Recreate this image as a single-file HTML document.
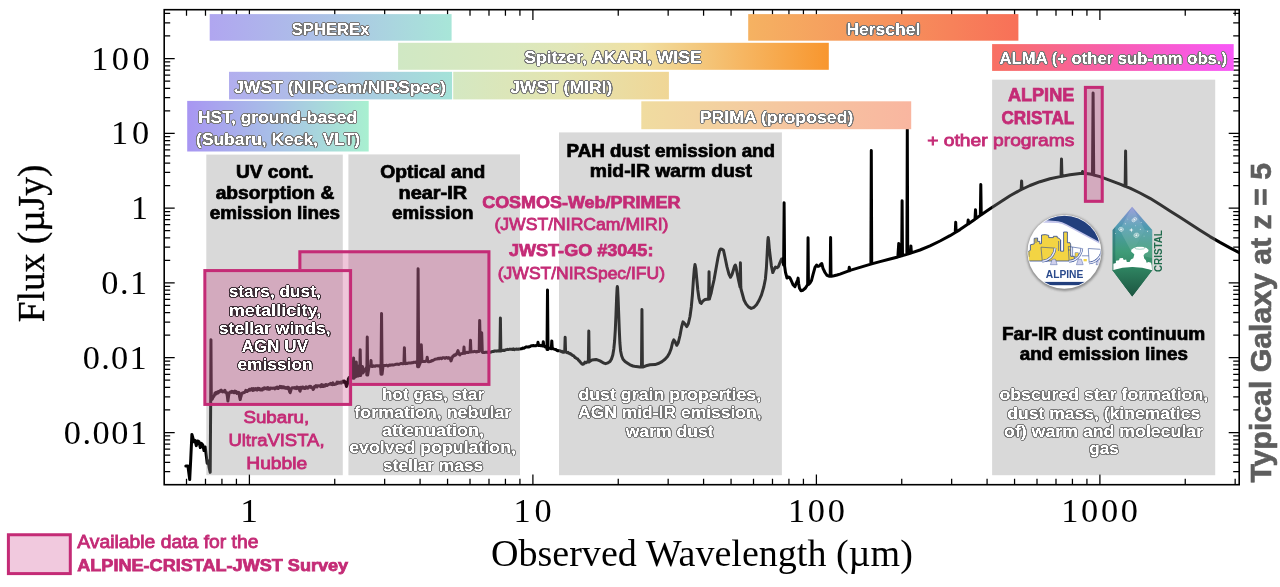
<!DOCTYPE html>
<html lang="en"><head><meta charset="utf-8"><title>Typical Galaxy at z = 5 - spectrum coverage</title>
<style>
html,body{margin:0;padding:0;background:#fff;}
body{width:1280px;height:587px;overflow:hidden;}
svg{display:block;}
.ser{font-family:"Liberation Serif","DejaVu Serif",serif;fill:#000;}
.axl{stroke:#000;stroke-width:0.35px;}
.sb{font-family:"Liberation Sans","DejaVu Sans",sans-serif;font-weight:700;}
.sr{font-family:"Liberation Sans","DejaVu Sans",sans-serif;font-weight:400;}
.ol{fill:#fff;filter:url(#fol);}
.od{fill:#fff;filter:url(#fod);}
.pk{fill:#c42b76;}
.md{stroke:#c42b76;stroke-width:0.8px;}
.ttl{fill:#000;stroke:#000;stroke-width:0.7px;}
.bk{stroke:#c42b76;stroke-width:0.75px;}
</style></head><body>
<svg width="1280" height="587" viewBox="0 0 1280 587">
<defs>

<linearGradient id="gS" x1="0" y1="0" x2="1" y2="0">
<stop offset="0" stop-color="#b0a6f0"/>
<stop offset="0.5" stop-color="#acc4e6"/>
<stop offset="1" stop-color="#a8e6d8"/>
</linearGradient>
<linearGradient id="gH" x1="0" y1="0" x2="1" y2="0">
<stop offset="0" stop-color="#f5b262"/>
<stop offset="0.5" stop-color="#f6945c"/>
<stop offset="1" stop-color="#f87058"/>
</linearGradient>
<linearGradient id="gP" x1="0" y1="0" x2="1" y2="0">
<stop offset="0" stop-color="#d0e8c4"/>
<stop offset="0.27" stop-color="#dae8be"/>
<stop offset="0.4" stop-color="#e2e6b6"/>
<stop offset="0.56" stop-color="#f0e0a2"/>
<stop offset="0.8" stop-color="#f6b662"/>
<stop offset="1" stop-color="#f8962e"/>
</linearGradient>
<linearGradient id="gA" x1="0" y1="0" x2="1" y2="0">
<stop offset="0" stop-color="#f87062"/>
<stop offset="0.5" stop-color="#f85eb0"/>
<stop offset="1" stop-color="#f858f8"/>
</linearGradient>
<linearGradient id="gJ" x1="0" y1="0" x2="1" y2="0">
<stop offset="0" stop-color="#b2aeee"/>
<stop offset="0.5" stop-color="#acc6e4"/>
<stop offset="1" stop-color="#a4e2d8"/>
</linearGradient>
<linearGradient id="gM" x1="0" y1="0" x2="1" y2="0">
<stop offset="0" stop-color="#d4e8c2"/>
<stop offset="0.5" stop-color="#e4e4b0"/>
<stop offset="1" stop-color="#f0d696"/>
</linearGradient>
<linearGradient id="gR" x1="0" y1="0" x2="1" y2="0">
<stop offset="0" stop-color="#f0dca0"/>
<stop offset="0.5" stop-color="#f5c8a0"/>
<stop offset="1" stop-color="#f9b6a0"/>
</linearGradient>
<linearGradient id="gT" x1="0" y1="0" x2="1" y2="0">
<stop offset="0" stop-color="#a896f2"/>
<stop offset="0.5" stop-color="#a8c2e6"/>
<stop offset="1" stop-color="#a8f0d0"/>
</linearGradient>
<linearGradient id="gCr" x1="0" y1="0" x2="0" y2="1">
<stop offset="0" stop-color="#8e92d6"/><stop offset="0.22" stop-color="#4f9ab0"/><stop offset="0.5" stop-color="#3f9c78"/><stop offset="0.75" stop-color="#2f7f5c"/><stop offset="1" stop-color="#1e5a44"/>
</linearGradient>
<linearGradient id="gCr2" x1="0" y1="0" x2="0" y2="1"><stop offset="0" stop-color="#2f8562"/><stop offset="1" stop-color="#1c5440"/></linearGradient>
<linearGradient id="gCr3" x1="0" y1="0" x2="0" y2="1"><stop offset="0" stop-color="#358c68"/><stop offset="1" stop-color="#2f8562"/></linearGradient>
<clipPath id="cAlp"><circle cx="1064.4" cy="251.9" r="36.2"/></clipPath>
<clipPath id="cCr"><polygon points="1132.4,207.1 1152.6,230 1152.6,272.1 1132.4,296.8 1112.3,272.1 1112.3,230"/></clipPath>
<filter id="fol" x="-5%" y="-30%" width="110%" height="160%" color-interpolation-filters="sRGB">
<feGaussianBlur in="SourceAlpha" stdDeviation="0.8" result="b1"/>
<feComponentTransfer in="b1" result="o"><feFuncA type="linear" slope="10" intercept="-1.0"/></feComponentTransfer>
<feFlood flood-color="#787878"/><feComposite in2="o" operator="in" result="oc"/>
<feGaussianBlur in="SourceAlpha" stdDeviation="0.5" result="b2"/>
<feComponentTransfer in="b2" result="i"><feFuncA type="linear" slope="4" intercept="-1.6"/></feComponentTransfer>
<feFlood flood-color="#fff"/><feComposite in2="i" operator="in" result="ic"/>
<feMerge><feMergeNode in="oc"/><feMergeNode in="ic"/></feMerge>
</filter>
<filter id="fod" x="-5%" y="-30%" width="110%" height="160%" color-interpolation-filters="sRGB">
<feGaussianBlur in="SourceAlpha" stdDeviation="0.8" result="b1"/>
<feComponentTransfer in="b1" result="o"><feFuncA type="linear" slope="10" intercept="-1.0"/></feComponentTransfer>
<feFlood flood-color="#3c2c35"/><feComposite in2="o" operator="in" result="oc"/>
<feGaussianBlur in="SourceAlpha" stdDeviation="0.5" result="b2"/>
<feComponentTransfer in="b2" result="i"><feFuncA type="linear" slope="4" intercept="-1.6"/></feComponentTransfer>
<feFlood flood-color="#fff"/><feComposite in2="i" operator="in" result="ic"/>
<feMerge><feMergeNode in="oc"/><feMergeNode in="ic"/></feMerge>
</filter>
<clipPath id="cPlot"><rect x="164.2" y="9.7" width="1075" height="475"/></clipPath>
<filter id="sh" x="-20%" y="-20%" width="140%" height="140%"><feGaussianBlur stdDeviation="1.2"/></filter>
</defs>
<rect width="1280" height="587" fill="#fff"/>

<path d="M186.51,484.70 v-6.0 M186.51,9.70 v6.0 M205.49,484.70 v-6.0 M205.49,9.70 v6.0 M221.93,484.70 v-6.0 M221.93,9.70 v6.0 M236.43,484.70 v-6.0 M236.43,9.70 v6.0 M249.40,484.70 v-10.3 M249.40,9.70 v10.3 M334.74,484.70 v-6.0 M334.74,9.70 v6.0 M384.66,484.70 v-6.0 M384.66,9.70 v6.0 M420.08,484.70 v-6.0 M420.08,9.70 v6.0 M447.56,484.70 v-6.0 M447.56,9.70 v6.0 M470.01,484.70 v-6.0 M470.01,9.70 v6.0 M488.99,484.70 v-6.0 M488.99,9.70 v6.0 M505.43,484.70 v-6.0 M505.43,9.70 v6.0 M519.93,484.70 v-6.0 M519.93,9.70 v6.0 M532.90,484.70 v-10.3 M532.90,9.70 v10.3 M618.24,484.70 v-6.0 M618.24,9.70 v6.0 M668.16,484.70 v-6.0 M668.16,9.70 v6.0 M703.58,484.70 v-6.0 M703.58,9.70 v6.0 M731.06,484.70 v-6.0 M731.06,9.70 v6.0 M753.51,484.70 v-6.0 M753.51,9.70 v6.0 M772.49,484.70 v-6.0 M772.49,9.70 v6.0 M788.93,484.70 v-6.0 M788.93,9.70 v6.0 M803.43,484.70 v-6.0 M803.43,9.70 v6.0 M816.40,484.70 v-10.3 M816.40,9.70 v10.3 M901.74,484.70 v-6.0 M901.74,9.70 v6.0 M951.66,484.70 v-6.0 M951.66,9.70 v6.0 M987.08,484.70 v-6.0 M987.08,9.70 v6.0 M1014.56,484.70 v-6.0 M1014.56,9.70 v6.0 M1037.01,484.70 v-6.0 M1037.01,9.70 v6.0 M1055.99,484.70 v-6.0 M1055.99,9.70 v6.0 M1072.43,484.70 v-6.0 M1072.43,9.70 v6.0 M1086.93,484.70 v-6.0 M1086.93,9.70 v6.0 M1099.90,484.70 v-10.3 M1099.90,9.70 v10.3 M1185.24,484.70 v-6.0 M1185.24,9.70 v6.0 M1235.16,484.70 v-6.0 M1235.16,9.70 v6.0 M164.20,471.61 h6.0 M1239.20,471.61 h-6.0 M164.20,462.27 h6.0 M1239.20,462.27 h-6.0 M164.20,455.02 h6.0 M1239.20,455.02 h-6.0 M164.20,449.09 h6.0 M1239.20,449.09 h-6.0 M164.20,444.09 h6.0 M1239.20,444.09 h-6.0 M164.20,439.75 h6.0 M1239.20,439.75 h-6.0 M164.20,435.92 h6.0 M1239.20,435.92 h-6.0 M164.20,432.50 h10.5 M1239.20,432.50 h-10.5 M164.20,409.98 h6.0 M1239.20,409.98 h-6.0 M164.20,396.81 h6.0 M1239.20,396.81 h-6.0 M164.20,387.47 h6.0 M1239.20,387.47 h-6.0 M164.20,380.22 h6.0 M1239.20,380.22 h-6.0 M164.20,374.29 h6.0 M1239.20,374.29 h-6.0 M164.20,369.29 h6.0 M1239.20,369.29 h-6.0 M164.20,364.95 h6.0 M1239.20,364.95 h-6.0 M164.20,361.12 h6.0 M1239.20,361.12 h-6.0 M164.20,357.70 h10.5 M1239.20,357.70 h-10.5 M164.20,335.18 h6.0 M1239.20,335.18 h-6.0 M164.20,322.01 h6.0 M1239.20,322.01 h-6.0 M164.20,312.67 h6.0 M1239.20,312.67 h-6.0 M164.20,305.42 h6.0 M1239.20,305.42 h-6.0 M164.20,299.49 h6.0 M1239.20,299.49 h-6.0 M164.20,294.49 h6.0 M1239.20,294.49 h-6.0 M164.20,290.15 h6.0 M1239.20,290.15 h-6.0 M164.20,286.32 h6.0 M1239.20,286.32 h-6.0 M164.20,282.90 h10.5 M1239.20,282.90 h-10.5 M164.20,260.38 h6.0 M1239.20,260.38 h-6.0 M164.20,247.21 h6.0 M1239.20,247.21 h-6.0 M164.20,237.87 h6.0 M1239.20,237.87 h-6.0 M164.20,230.62 h6.0 M1239.20,230.62 h-6.0 M164.20,224.69 h6.0 M1239.20,224.69 h-6.0 M164.20,219.69 h6.0 M1239.20,219.69 h-6.0 M164.20,215.35 h6.0 M1239.20,215.35 h-6.0 M164.20,211.52 h6.0 M1239.20,211.52 h-6.0 M164.20,208.10 h10.5 M1239.20,208.10 h-10.5 M164.20,185.58 h6.0 M1239.20,185.58 h-6.0 M164.20,172.41 h6.0 M1239.20,172.41 h-6.0 M164.20,163.07 h6.0 M1239.20,163.07 h-6.0 M164.20,155.82 h6.0 M1239.20,155.82 h-6.0 M164.20,149.89 h6.0 M1239.20,149.89 h-6.0 M164.20,144.89 h6.0 M1239.20,144.89 h-6.0 M164.20,140.55 h6.0 M1239.20,140.55 h-6.0 M164.20,136.72 h6.0 M1239.20,136.72 h-6.0 M164.20,133.30 h10.5 M1239.20,133.30 h-10.5 M164.20,110.78 h6.0 M1239.20,110.78 h-6.0 M164.20,97.61 h6.0 M1239.20,97.61 h-6.0 M164.20,88.27 h6.0 M1239.20,88.27 h-6.0 M164.20,81.02 h6.0 M1239.20,81.02 h-6.0 M164.20,75.09 h6.0 M1239.20,75.09 h-6.0 M164.20,70.09 h6.0 M1239.20,70.09 h-6.0 M164.20,65.75 h6.0 M1239.20,65.75 h-6.0 M164.20,61.92 h6.0 M1239.20,61.92 h-6.0 M164.20,58.50 h10.5 M1239.20,58.50 h-10.5 M164.20,35.98 h6.0 M1239.20,35.98 h-6.0 M164.20,22.81 h6.0 M1239.20,22.81 h-6.0 M164.20,13.47 h6.0 M1239.20,13.47 h-6.0" stroke="#000" stroke-width="1.25" fill="none"/>
<g clip-path="url(#cPlot)">
<path d="M185.80,465.90 L187.90,465.90 L189.70,479.60 L190.80,458.00 L191.90,434.40 L192.80,437.50 L193.80,441.80 L195.00,440.30 L196.30,445.60 L197.50,441.00 L199.00,441.60 L200.30,447.60 L201.50,443.40 L202.80,445.00 L204.00,450.60 L205.20,447.00 L206.20,455.00 L207.20,463.20 L208.20,460.80 L209.20,468.00 L210.20,472.30 L210.70,400.00 L210.95,339.80 L211.30,398.00 L212.00,399.50 L212.60,398.49 L213.20,397.03 L213.80,396.42 L214.40,395.36 L215.00,393.09 L215.62,392.58 L216.25,393.91 L216.88,392.29 L217.50,391.84 L218.12,393.04 L218.75,391.54 L219.38,391.91 L220.00,390.75 L220.62,391.15 L221.25,390.19 L221.88,391.27 L222.50,391.82 L223.12,391.16 L223.75,391.68 L224.38,391.60 L225.00,390.38 L225.53,392.41 L226.07,392.62 L226.60,392.58 L227.25,395.62 L227.90,400.97 L228.55,396.29 L229.20,392.96 L230.00,392.10 L230.62,391.84 L231.25,392.36 L231.88,391.34 L232.50,392.28 L233.12,391.62 L233.75,392.74 L234.38,392.71 L235.00,391.15 L235.63,391.37 L236.27,391.67 L236.90,393.38 L237.53,392.40 L238.17,392.93 L238.80,392.38 L239.50,396.32 L240.20,399.56 L240.73,397.22 L241.27,395.45 L241.80,393.18 L242.35,393.50 L242.90,392.68 L243.45,392.85 L244.00,392.35 L244.60,392.43 L245.20,391.56 L245.80,390.29 L246.40,391.56 L247.00,391.58 L247.60,391.25 L248.20,390.35 L248.80,390.45 L249.40,389.19 L250.00,390.30 L250.59,389.73 L251.18,389.10 L251.76,388.61 L252.35,390.25 L252.94,390.51 L253.53,388.59 L254.12,390.07 L254.71,389.22 L255.29,388.65 L255.88,388.93 L256.47,389.91 L257.06,390.10 L257.65,388.34 L258.24,389.51 L258.82,388.29 L259.41,389.68 L260.00,388.85 L260.59,389.95 L261.18,390.10 L261.76,389.05 L262.35,390.04 L262.94,388.54 L263.53,387.99 L264.12,389.04 L264.71,387.79 L265.29,388.09 L265.88,388.48 L266.47,388.85 L267.06,387.84 L267.65,387.55 L268.24,389.23 L268.82,388.01 L269.41,389.32 L270.00,389.13 L270.59,387.99 L271.18,388.11 L271.76,388.18 L272.35,388.39 L272.94,388.24 L273.53,388.11 L274.12,388.18 L274.71,388.80 L275.29,387.84 L275.88,387.63 L276.47,388.18 L277.06,387.11 L277.65,387.19 L278.24,388.56 L278.82,387.55 L279.41,387.55 L280.00,386.37 L280.62,387.26 L281.25,387.64 L281.88,386.50 L282.50,387.79 L283.12,387.87 L283.75,386.70 L284.38,387.93 L285.00,387.63 L285.57,388.18 L286.14,387.59 L286.71,388.43 L287.29,388.60 L287.86,387.20 L288.43,387.38 L289.00,388.77 L289.60,391.77 L290.20,392.68 L290.80,390.66 L291.40,388.49 L292.00,387.87 L292.60,387.91 L293.20,387.76 L293.80,387.83 L294.40,388.25 L295.00,387.58 L295.60,387.74 L296.20,388.57 L296.80,387.01 L297.40,388.15 L298.00,388.49 L298.60,387.60 L299.20,387.42 L299.65,390.54 L300.10,391.25 L301.00,387.24 L301.57,387.74 L302.14,388.26 L302.71,386.98 L303.29,387.41 L303.86,387.41 L304.43,388.43 L305.00,387.57 L305.58,388.38 L306.17,386.87 L306.75,387.16 L307.33,387.75 L307.92,388.17 L308.50,387.20 L309.08,386.66 L309.67,386.37 L310.25,387.16 L310.83,386.38 L311.42,387.61 L312.00,387.61 L312.55,387.79 L313.10,389.54 L313.65,388.95 L314.20,386.90 L314.78,387.17 L315.36,386.14 L315.94,385.61 L316.52,385.88 L317.10,386.87 L317.68,385.70 L318.26,385.79 L318.84,385.87 L319.42,385.80 L320.00,385.71 L320.59,386.70 L321.18,385.00 L321.76,384.60 L322.35,386.48 L322.94,386.26 L323.53,386.39 L324.12,385.14 L324.71,386.14 L325.29,386.00 L325.88,384.43 L326.47,385.45 L327.06,385.55 L327.65,385.10 L328.24,384.70 L328.82,384.13 L329.41,384.15 L330.00,383.83 L330.59,383.38 L331.18,384.36 L331.76,383.62 L332.35,384.60 L332.94,382.89 L333.53,384.58 L334.12,384.02 L334.71,384.40 L335.29,384.23 L335.88,384.12 L336.47,383.33 L337.06,382.04 L337.65,383.46 L338.24,382.15 L338.82,382.30 L339.41,382.95 L340.00,382.55 L340.62,382.13 L341.25,383.05 L341.88,382.17 L342.50,381.42 L343.12,381.04 L343.75,382.13 L344.38,381.14 L345.00,381.59 L345.75,383.79 L346.50,386.56 L347.15,384.67 L347.80,382.67 L348.40,378.81 L349.00,377.61 L349.75,377.64 L350.50,376.50 L351.70,367.00 L351.75,378.00 L352.20,366.00 L352.65,378.00 L353.10,367.00 L353.15,378.30 L353.60,357.90 L354.05,378.30 L354.50,367.00 L354.55,377.00 L355.00,364.00 L355.45,377.00 L355.80,367.00 L355.85,376.30 L356.30,362.00 L356.75,376.30 L357.30,367.00 L357.35,376.00 L357.80,366.00 L358.25,376.00 L359.70,367.00 L359.75,375.60 L360.20,349.70 L360.65,375.60 L362.00,367.00 L362.05,373.00 L362.50,366.50 L362.95,373.00 L366.75,367.00 L366.80,375.00 L367.25,337.00 L367.70,375.00 L369.00,366.50 L370.65,366.30 L371.00,360.60 L371.35,366.30 L372.00,366.44 L372.77,366.42 L373.55,365.73 L374.32,366.19 L375.09,366.34 L375.86,365.66 L376.64,365.80 L377.41,365.76 L378.18,365.93 L378.95,365.81 L379.73,365.81 L380.50,365.80 L381.00,374.20 L381.55,313.60 L382.10,374.20 L383.00,366.00 L383.00,366.25 L383.78,365.47 L384.56,365.44 L385.33,365.43 L386.11,365.35 L386.89,365.22 L387.67,365.96 L388.44,365.77 L389.22,365.01 L390.00,365.30 L390.81,365.03 L391.62,364.93 L392.44,364.87 L393.25,365.03 L394.06,364.88 L394.87,364.57 L395.68,364.32 L396.49,364.35 L397.31,364.06 L398.12,364.35 L398.93,364.39 L399.74,363.99 L400.55,363.62 L401.36,363.61 L402.18,363.69 L402.99,363.79 L403.80,363.60 L403.95,363.50 L404.40,347.70 L404.85,363.50 L405.20,363.65 L406.00,363.23 L406.80,363.54 L407.60,363.31 L408.40,363.07 L409.20,362.95 L410.00,363.00 L410.82,363.07 L411.64,362.71 L412.47,362.84 L413.29,362.52 L414.11,362.22 L414.93,362.37 L415.76,362.40 L416.58,361.73 L417.40,362.00 L417.60,366.70 L418.10,268.80 L418.70,366.70 L420.60,362.00 L421.30,344.70 L422.00,361.60 L422.50,361.44 L423.32,361.34 L424.14,361.60 L424.96,361.55 L425.78,361.00 L426.60,361.00 L426.70,361.00 L427.20,357.20 L427.70,361.00 L428.00,361.70 L429.00,361.84 L430.00,361.56 L430.83,361.30 L431.67,360.49 L432.50,360.71 L433.33,360.10 L434.17,359.85 L435.00,359.29 L435.83,359.10 L436.67,359.10 L437.50,358.86 L438.33,358.34 L439.17,358.75 L440.00,358.10 L440.83,358.14 L441.67,358.67 L442.50,357.84 L443.33,357.79 L444.17,357.70 L445.00,358.38 L445.83,357.66 L446.67,357.49 L447.50,358.29 L448.33,357.55 L449.17,358.26 L450.00,358.07 L451.00,360.94 L452.00,357.95 L453.00,356.08 L453.75,355.95 L454.50,354.84 L455.25,355.22 L456.00,354.61 L457.00,353.02 L458.00,350.61 L459.00,354.25 L460.00,354.83 L460.85,353.66 L461.70,353.62 L462.55,353.56 L463.40,353.20 L463.55,353.20 L464.00,347.00 L464.45,353.20 L464.80,353.26 L465.53,352.63 L466.27,352.41 L467.00,352.30 L467.73,352.47 L468.45,352.45 L469.17,352.04 L469.90,352.00 L470.05,352.00 L470.50,340.20 L470.95,352.00 L471.30,351.79 L472.08,351.75 L472.87,351.65 L473.65,351.63 L474.43,351.30 L475.22,351.57 L476.00,351.88 L476.75,351.43 L477.50,351.70 L478.25,351.23 L479.00,351.50 L479.20,351.50 L479.65,320.40 L480.40,350.00 L481.20,350.00 L481.70,332.70 L482.30,352.30 L483.00,352.53 L483.78,352.53 L484.56,352.43 L485.33,352.28 L486.11,352.21 L486.89,352.28 L487.67,352.41 L488.44,351.84 L489.22,351.76 L490.00,352.17 L490.83,352.16 L491.67,351.75 L492.50,351.56 L493.33,351.62 L494.17,351.11 L495.00,351.04 L495.80,350.94 L496.60,351.16 L497.40,350.92 L498.20,350.81 L499.00,351.08 L499.80,350.90 L499.95,350.90 L500.40,318.00 L500.85,350.90 L501.20,351.01 L501.96,350.32 L502.72,350.58 L503.48,350.22 L504.24,350.52 L505.00,350.18 L505.83,349.77 L506.67,349.61 L507.50,349.32 L508.33,349.61 L509.17,349.41 L510.00,349.11 L510.83,349.23 L511.67,349.16 L512.50,349.52 L513.33,348.91 L514.17,349.63 L515.00,349.13 L515.83,349.20 L516.67,349.04 L517.50,349.33 L518.33,349.27 L519.17,348.99 L520.00,348.88 L520.83,348.87 L521.67,348.75 L522.50,348.11 L523.33,348.18 L524.17,348.15 L525.00,347.47 L525.83,347.06 L526.67,346.86 L527.50,347.10 L528.33,346.86 L529.17,346.91 L530.00,346.62 L530.83,345.93 L531.67,345.75 L532.50,345.68 L533.33,345.49 L534.17,345.82 L535.00,345.82 L535.80,345.79 L536.60,345.15 L537.40,345.30 L537.50,345.30 L538.00,342.30 L538.50,345.30 L539.00,345.59 L539.72,345.25 L540.44,345.44 L541.16,345.78 L541.88,345.37 L542.60,345.80 L542.80,346.00 L543.30,341.80 L543.80,346.00 L544.20,345.97 L545.10,346.97 L546.00,346.93 L546.90,347.50 L547.00,349.40 L547.50,289.90 L548.00,349.40 L548.60,347.89 L549.43,348.20 L550.27,348.41 L551.10,348.40 L551.30,348.60 L551.80,340.90 L552.30,348.60 L552.60,348.36 L553.40,348.85 L554.20,349.14 L555.00,349.39 L555.75,349.44 L556.50,350.08 L557.25,350.71 L558.00,350.50 L558.80,350.86 L559.60,350.70 L560.40,351.06 L561.20,351.63 L562.00,351.35 L562.83,352.15 L563.67,352.27 L564.50,352.00 L564.70,352.00 L565.15,337.30 L565.60,352.00 L566.00,351.80 L567.00,352.79 L568.00,352.37 L568.80,353.21 L569.60,353.64 L570.40,353.62 L571.20,354.44 L572.00,354.85 L572.80,355.63 L573.60,355.71 L574.40,356.81 L575.20,357.64 L576.00,357.97 L576.80,358.60 L577.60,358.93 L578.40,360.07 L579.20,360.69 L580.00,361.82 L580.87,362.78 L581.73,363.67 L582.60,364.28 L583.40,364.05 L584.20,363.33 L585.00,362.18 L585.80,362.76 L586.60,362.41 L587.40,361.75 L588.20,362.00 L588.35,362.00 L588.80,331.10 L589.25,362.00 L589.60,361.50 L592.00,360.00 L596.00,359.40 L600.00,360.90 L604.00,363.20 L605.50,363.70 L608.00,362.80 L610.00,361.50 L611.50,359.00 L612.80,355.00 L613.80,349.00 L614.60,341.00 L615.30,330.00 L616.00,314.00 L616.60,298.00 L617.10,288.00 L617.35,286.50 L617.60,288.00 L618.10,298.00 L618.70,314.00 L619.30,330.00 L619.90,343.00 L620.60,351.00 L621.60,355.80 L623.00,359.20 L625.00,361.40 L627.60,363.20 L630.00,364.80 L633.00,366.00 L636.00,366.60 L639.80,366.90 L641.30,367.10 L641.50,367.10 L641.95,309.60 L642.40,367.10 L642.80,367.00 L646.00,365.80 L650.00,364.80 L655.00,364.60 L659.00,363.30 L662.00,361.60 L665.00,359.30 L667.50,356.50 L669.50,353.00 L671.20,348.50 L672.60,342.50 L673.80,339.80 L675.00,341.50 L676.80,345.30 L678.30,342.50 L680.00,335.50 L681.60,327.00 L683.00,321.90 L684.60,323.50 L686.80,326.60 L688.40,323.50 L690.00,316.50 L691.30,307.00 L692.40,295.00 L693.40,280.00 L694.30,269.00 L695.00,264.60 L695.80,268.50 L696.80,279.50 L697.80,290.00 L699.00,298.50 L700.20,302.60 L701.20,303.50 L702.80,301.20 L704.50,299.80 L706.50,299.20 L708.40,299.20 L708.60,298.90 L709.05,271.80 L709.50,298.90 L709.80,297.50 L711.00,293.60 L712.50,286.50 L714.00,280.00 L716.00,268.80 L718.00,257.50 L719.50,251.00 L720.60,249.00 L722.00,249.30 L723.50,250.30 L725.00,257.20 L727.00,266.90 L729.00,274.40 L730.50,277.30 L732.00,274.50 L733.40,270.00 L734.60,266.00 L735.30,265.00 L736.00,267.00 L737.00,272.50 L738.40,279.50 L739.80,286.00 L740.00,287.00 L740.40,262.80 L740.80,287.00 L741.00,289.00 L742.50,294.50 L744.00,300.00 L746.00,303.90 L748.50,306.90 L751.20,308.40 L754.00,307.30 L756.50,304.80 L759.00,300.50 L761.50,294.80 L763.80,287.00 L765.40,279.00 L766.40,268.00 L767.20,253.00 L767.80,241.00 L768.20,237.50 L768.70,241.00 L769.40,249.50 L770.30,257.00 L771.40,266.00 L772.80,272.60 L774.20,269.50 L775.50,267.00 L777.00,267.80 L778.60,266.30 L780.00,262.50 L781.50,259.00 L783.00,262.00 L783.60,265.00 L784.10,202.80 L784.60,266.00 L785.50,272.40 L787.00,278.00 L788.40,277.00 L789.80,277.60 L791.00,280.00 L793.00,284.60 L795.00,286.60 L796.50,282.50 L797.60,280.00 L798.10,278.10 L798.70,284.00 L799.50,288.30 L801.00,290.80 L803.00,290.20 L805.50,288.00 L807.50,284.80 L807.65,284.40 L808.05,237.80 L808.45,284.40 L808.80,284.00 L810.00,283.00 L811.50,280.50 L813.00,274.60 L815.00,267.40 L816.60,265.00 L818.00,266.40 L819.60,265.80 L821.00,264.00 L821.80,263.50 L823.00,268.30 L825.00,272.50 L827.00,275.30 L829.00,276.20 L830.20,276.30 L830.20,276.30 L830.60,237.40 L831.00,276.30 L831.40,276.20 L834.00,275.70 L837.00,275.00 L840.00,274.10 L844.00,272.60 L848.80,270.80 L848.80,270.70 L849.30,267.20 L849.80,270.70 L850.00,270.40 L860.00,267.40 L870.00,264.40 L870.90,264.15 L871.30,150.40 L871.70,263.92 L880.00,261.60 L890.00,259.00 L897.85,256.96 L898.75,243.40 L899.65,256.49 L900.00,256.40 L901.70,255.89 L902.10,200.80 L902.50,255.65 L906.90,254.33 L907.30,129.60 L907.70,254.09 L910.00,253.40 L910.40,253.26 L910.90,245.90 L911.40,252.92 L920.00,250.00 L930.00,245.90 L940.00,241.00 L950.00,235.70 L955.25,232.50 L955.70,222.20 L956.15,231.95 L960.00,229.60 L967.70,224.36 L968.20,220.00 L968.70,223.68 L970.00,222.80 L975.00,219.20 L975.50,209.80 L976.00,218.48 L980.00,215.60 L980.35,215.36 L980.80,184.50 L981.25,214.75 L990.00,208.80 L1000.00,202.20 L1010.00,195.80 L1020.00,190.20 L1021.15,189.66 L1021.60,181.00 L1022.05,189.24 L1030.00,185.50 L1040.00,181.70 L1050.00,178.80 L1060.00,176.60 L1061.05,176.41 L1061.50,159.00 L1061.95,176.25 L1070.00,174.80 L1080.00,173.60 L1082.10,173.56 L1082.60,171.40 L1083.10,173.55 L1086.00,173.50 L1090.00,174.00 L1092.50,174.65 L1093.10,92.90 L1093.70,174.96 L1100.00,176.60 L1110.00,180.40 L1120.00,184.20 L1125.15,186.26 L1125.60,151.00 L1126.05,186.62 L1130.00,188.20 L1140.00,193.00 L1150.00,198.30 L1160.00,204.60 L1170.00,210.90 L1180.00,217.30 L1190.00,223.80 L1200.00,230.30 L1210.00,236.60 L1220.00,242.40 L1230.00,247.90 L1239.20,252.60" fill="none" stroke="#000" stroke-width="3.0" stroke-linejoin="round" stroke-linecap="round"/>
<rect x="206.3" y="154.6" width="136.5" height="320.6" fill="#929292" fill-opacity="0.35"/>
<rect x="348.4" y="154.4" width="171.6" height="320.8" fill="#929292" fill-opacity="0.35"/>
<rect x="559.0" y="132.4" width="222.9" height="342.8" fill="#929292" fill-opacity="0.35"/>
<rect x="992.1" y="79.7" width="223.1" height="395.5" fill="#929292" fill-opacity="0.35"/>
<rect x="209.7" y="14.1" width="241.9" height="26.6" fill="url(#gS)"/>
<rect x="748.2" y="14.1" width="270.2" height="26.6" fill="url(#gH)"/>
<rect x="398.1" y="42.8" width="430.7" height="27.0" fill="url(#gP)"/>
<rect x="992.1" y="44.1" width="241.6" height="26.8" fill="url(#gA)"/>
<rect x="229.0" y="71.8" width="223.1" height="27.6" fill="url(#gJ)"/>
<rect x="453.2" y="71.8" width="215.7" height="27.6" fill="url(#gM)"/>
<rect x="641.3" y="101.3" width="269.9" height="27.9" fill="url(#gR)"/>
<rect x="187.2" y="100.9" width="181.5" height="50.6" fill="url(#gT)"/>
<path d="M298.40,250.30 H490.40 V385.90 H298.40 Z M203.40,269.10 H352.10 V405.90 H203.40 Z" fill="#c42b76" fill-opacity="0.27" fill-rule="nonzero"/>
<clipPath id="cR2"><path clip-rule="evenodd" d="M0,0 H1280 V587 H0 Z M203.40,269.10 H352.10 V405.90 H203.40 Z"/></clipPath>
<rect x="299.90" y="251.80" width="189.00" height="132.60" fill="none" stroke="#c42b76" stroke-width="3.0" clip-path="url(#cR2)"/>
<rect x="204.90" y="270.60" width="145.70" height="133.80" fill="none" stroke="#c42b76" stroke-width="3.0"/>
<rect x="1083.90" y="85.90" width="19.80" height="116.90" fill="#c42b76" fill-opacity="0.27" stroke="none"/>
<rect x="1085.40" y="87.40" width="16.80" height="113.90" fill="none" stroke="#c42b76" stroke-width="3.0"/>
</g>
<rect x="164.2" y="9.7" width="1075.0" height="475.0" fill="none" stroke="#000" stroke-width="1.6"/>
<text class="ser" transform="translate(91.18,69.5) scale(1.040,1)" font-size="33" letter-spacing="3.37">100</text>
<text class="ser" transform="translate(110.98,144.3) scale(1.040,1)" font-size="33" letter-spacing="3.69">10</text>
<text class="ser" transform="translate(130.92,219.1) scale(1.027,1)" font-size="33" letter-spacing="0.00">1</text>
<text class="ser" transform="translate(101.26,293.9) scale(1.040,1)" font-size="33" letter-spacing="1.48">0.1</text>
<text class="ser" transform="translate(82.66,368.7) scale(1.040,1)" font-size="33" letter-spacing="1.28">0.01</text>
<text class="ser" transform="translate(63.76,443.5) scale(1.040,1)" font-size="33" letter-spacing="1.50">0.001</text>
<text class="ser" transform="translate(240.28,522.0) scale(1.073,1)" font-size="33" letter-spacing="0.00">1</text>
<text class="ser" transform="translate(513.38,522.0) scale(1.040,1)" font-size="33" letter-spacing="3.79">10</text>
<text class="ser" transform="translate(787.88,522.0) scale(1.040,1)" font-size="33" letter-spacing="2.69">100</text>
<text class="ser" transform="translate(1061.28,522.0) scale(1.040,1)" font-size="33" letter-spacing="2.57">1000</text>
<text class="ser" x="491" y="566" font-size="37.5" textLength="421.8" lengthAdjust="spacingAndGlyphs">Observed Wavelength (µm)</text>
<text class="ser axl" transform="translate(43.7,322.2) rotate(-90)" font-size="38" textLength="157.6" lengthAdjust="spacingAndGlyphs">Flux (µJy)</text>
<text class="sb" transform="translate(1271.0,482.6) rotate(-90)" font-size="29.5" fill="#5e5e5e" stroke="#5e5e5e" stroke-width="0.6" textLength="319.6" lengthAdjust="spacingAndGlyphs">Typical Galaxy at z = 5</text>
<text class="sb ol" x="330.6" y="35.0" font-size="16.6" text-anchor="middle" textLength="77.7" lengthAdjust="spacingAndGlyphs">SPHEREx</text>
<text class="sb ol" x="883.4" y="35.0" font-size="16.6" text-anchor="middle" textLength="74.0" lengthAdjust="spacingAndGlyphs">Herschel</text>
<text class="sb ol" x="613.0" y="63.4" font-size="16.6" text-anchor="middle" textLength="177.5" lengthAdjust="spacingAndGlyphs">Spitzer, AKARI, WISE</text>
<text class="sb ol" x="1113.3" y="64.3" font-size="16.6" text-anchor="middle" textLength="227.4" lengthAdjust="spacingAndGlyphs">ALMA (+ other sub-mm obs.)</text>
<text class="sb ol" x="340.0" y="92.8" font-size="16.6" text-anchor="middle" textLength="212.0" lengthAdjust="spacingAndGlyphs">JWST (NIRCam/NIRSpec)</text>
<text class="sb ol" x="561.2" y="92.8" font-size="16.6" text-anchor="middle" textLength="102.1" lengthAdjust="spacingAndGlyphs">JWST (MIRI)</text>
<text class="sb ol" x="776.5" y="122.8" font-size="16.6" text-anchor="middle" textLength="153.7" lengthAdjust="spacingAndGlyphs">PRIMA (proposed)</text>
<text class="sb ol" x="277.6" y="122.8" font-size="16.6" text-anchor="middle" textLength="159.3" lengthAdjust="spacingAndGlyphs">HST, ground-based</text>
<text class="sb ol" x="278.1" y="145.3" font-size="16.6" text-anchor="middle" textLength="164.0" lengthAdjust="spacingAndGlyphs">(Subaru, Keck, VLT)</text>
<text class="sb ttl" x="274.8" y="178.1" font-size="17.7" text-anchor="middle" textLength="77.8" lengthAdjust="spacingAndGlyphs">UV cont.</text>
<text class="sb ttl" x="275.0" y="198.6" font-size="17.7" text-anchor="middle" textLength="118.7" lengthAdjust="spacingAndGlyphs">absorption &amp;</text>
<text class="sb ttl" x="274.9" y="219.0" font-size="17.7" text-anchor="middle" textLength="130.3" lengthAdjust="spacingAndGlyphs">emission lines</text>
<text class="sb ttl" x="432.8" y="177.9" font-size="17.7" text-anchor="middle" textLength="105.0" lengthAdjust="spacingAndGlyphs">Optical and</text>
<text class="sb ttl" x="432.8" y="198.6" font-size="17.7" text-anchor="middle" textLength="68.6" lengthAdjust="spacingAndGlyphs">near-IR</text>
<text class="sb ttl" x="432.8" y="219.0" font-size="17.7" text-anchor="middle" textLength="81.4" lengthAdjust="spacingAndGlyphs">emission</text>
<text class="sb ttl" x="670.8" y="156.6" font-size="17.7" text-anchor="middle" textLength="208.5" lengthAdjust="spacingAndGlyphs">PAH dust emission and</text>
<text class="sb ttl" x="670.9" y="177.2" font-size="17.7" text-anchor="middle" textLength="162.2" lengthAdjust="spacingAndGlyphs">mid-IR warm dust</text>
<text class="sb ttl" x="1103.6" y="340.0" font-size="17.7" text-anchor="middle" textLength="203.4" lengthAdjust="spacingAndGlyphs">Far-IR dust continuum</text>
<text class="sb ttl" x="1103.8" y="360.0" font-size="17.7" text-anchor="middle" textLength="168.2" lengthAdjust="spacingAndGlyphs">and emission lines</text>
<text class="sb od" x="274.7" y="297.2" font-size="17.2" text-anchor="middle" textLength="92.0" lengthAdjust="spacingAndGlyphs">stars, dust,</text>
<text class="sb od" x="275.0" y="315.6" font-size="17.2" text-anchor="middle" textLength="92.6" lengthAdjust="spacingAndGlyphs">metallicity,</text>
<text class="sb od" x="274.7" y="333.9" font-size="17.2" text-anchor="middle" textLength="112.0" lengthAdjust="spacingAndGlyphs">stellar winds,</text>
<text class="sb od" x="274.9" y="352.3" font-size="17.2" text-anchor="middle" textLength="66.3" lengthAdjust="spacingAndGlyphs">AGN UV</text>
<text class="sb od" x="275.1" y="370.4" font-size="17.2" text-anchor="middle" textLength="75.3" lengthAdjust="spacingAndGlyphs">emission</text>
<text class="sb ol" x="433.0" y="399.6" font-size="17.2" text-anchor="middle" textLength="102.2" lengthAdjust="spacingAndGlyphs">hot gas, star</text>
<text class="sb ol" x="432.8" y="417.6" font-size="17.2" text-anchor="middle" textLength="157.0" lengthAdjust="spacingAndGlyphs">formation, nebular</text>
<text class="sb ol" x="433.0" y="435.5" font-size="17.2" text-anchor="middle" textLength="102.2" lengthAdjust="spacingAndGlyphs">attenuation,</text>
<text class="sb ol" x="432.6" y="453.4" font-size="17.2" text-anchor="middle" textLength="166.7" lengthAdjust="spacingAndGlyphs">evolved population,</text>
<text class="sb ol" x="433.1" y="471.2" font-size="17.2" text-anchor="middle" textLength="100.0" lengthAdjust="spacingAndGlyphs">stellar mass</text>
<text class="sb ol" x="669.8" y="400.0" font-size="17.2" text-anchor="middle" textLength="182.8" lengthAdjust="spacingAndGlyphs">dust grain properties,</text>
<text class="sb ol" x="669.8" y="418.2" font-size="17.2" text-anchor="middle" textLength="183.5" lengthAdjust="spacingAndGlyphs">AGN mid-IR emission,</text>
<text class="sb ol" x="669.7" y="436.5" font-size="17.2" text-anchor="middle" textLength="88.0" lengthAdjust="spacingAndGlyphs">warm dust</text>
<text class="sb ol" x="1103.8" y="400.3" font-size="17.2" text-anchor="middle" textLength="208.8" lengthAdjust="spacingAndGlyphs">obscured star formation,</text>
<text class="sb ol" x="1103.8" y="418.6" font-size="17.2" text-anchor="middle" textLength="192.9" lengthAdjust="spacingAndGlyphs">dust mass, (kinematics</text>
<text class="sb ol" x="1103.6" y="436.6" font-size="17.2" text-anchor="middle" textLength="199.1" lengthAdjust="spacingAndGlyphs">of) warm and molecular</text>
<text class="sb ol" x="1104.0" y="454.2" font-size="17.2" text-anchor="middle" textLength="29.4" lengthAdjust="spacingAndGlyphs">gas</text>
<text class="sb bk pk" x="581.3" y="207.6" font-size="17.2" text-anchor="middle" textLength="198.2" lengthAdjust="spacingAndGlyphs">COSMOS-Web/PRIMER</text>
<text class="sr md pk" x="581.4" y="230.4" font-size="16.6" text-anchor="middle" textLength="174.0" lengthAdjust="spacingAndGlyphs">(JWST/NIRCam/MIRI)</text>
<text class="sb bk pk" x="581.2" y="256.4" font-size="17.2" text-anchor="middle" textLength="144.4" lengthAdjust="spacingAndGlyphs">JWST-GO #3045:</text>
<text class="sr md pk" x="581.4" y="278.8" font-size="16.6" text-anchor="middle" textLength="167.2" lengthAdjust="spacingAndGlyphs">(JWST/NIRSpec/IFU)</text>
<text class="sr md pk" x="276.3" y="422.8" font-size="17.3" text-anchor="middle" textLength="65.8" lengthAdjust="spacingAndGlyphs">Subaru,</text>
<text class="sr md pk" x="276.5" y="446.0" font-size="17.3" text-anchor="middle" textLength="96.2" lengthAdjust="spacingAndGlyphs">UltraVISTA,</text>
<text class="sr md pk" x="276.7" y="469.0" font-size="17.3" text-anchor="middle" textLength="60.9" lengthAdjust="spacingAndGlyphs">Hubble</text>
<text class="sb bk pk" x="1041.1" y="100.5" font-size="18.4" text-anchor="middle" textLength="66.4" lengthAdjust="spacingAndGlyphs">ALPINE</text>
<text class="sb bk pk" x="1037.9" y="124.0" font-size="18.4" text-anchor="middle" textLength="72.8" lengthAdjust="spacingAndGlyphs">CRISTAL</text>
<text class="sr md pk" x="1000.8" y="146.4" font-size="17.0" text-anchor="middle" textLength="147.2" lengthAdjust="spacingAndGlyphs">+ other programs</text>
<rect x="8.4" y="534.75" width="61.9" height="38.85" fill="#f1c9de" stroke="#c42b76" stroke-width="3"/>
<text class="sr md pk" x="167.9" y="547.9" font-size="18.0" text-anchor="middle" textLength="181.2" lengthAdjust="spacingAndGlyphs">Available data for the</text>
<text class="sb bk pk" x="212.7" y="570.7" font-size="16.5" text-anchor="middle" textLength="270.9" lengthAdjust="spacingAndGlyphs">ALPINE-CRISTAL-JWST Survey</text>
<g id="alpine-logo">
<circle cx="1064.7" cy="252.8" r="38.2" fill="#444" opacity="0.5" filter="url(#sh)"/>
<circle cx="1064.4" cy="251.9" r="36.9" fill="#fff"/>
<g clip-path="url(#cAlp)">
<path d="M1036.78,222.39 L1058.07,222.90 Q1061.90,223.41 1066.59,226.05 L1105.77,247.09 L1105.77,212.00 L1036.78,212.00 Z" fill="#c2c4ea"/>
<path d="M1041.04,219.84 L1058.07,221.20 Q1061.90,221.71 1066.59,224.35 L1105.77,245.39 L1105.77,212.00 L1041.04,212.00 Z" fill="#223f7d"/>
<polygon points="1027.4,261.0 1027.4,252.0 1030.4,250.3 1030.4,244.8 1034.2,243.9 1034.2,238.4 1037.6,238.0 1037.6,241.4 1039.8,241.4 1039.8,243.9 1041.5,243.5 1041.5,235.0 1045.3,234.6 1048.7,235.4 1048.7,237.6 1053.4,237.6 1053.4,236.3 1057.2,236.3 1057.2,237.6 1059.3,238.4 1060.6,240.1 1060.6,251.2 1063.6,251.2 1063.6,232.0 1067.4,232.0 1067.4,242.7 1070.0,242.7 1070.7,244.8 1070.7,256.3 1074.3,256.3 1074.3,261.0" fill="#f3d443" stroke="#2a4590" stroke-width="0.8" stroke-linejoin="round"/>
<rect x="1075" y="252.8" width="3.5" height="4.2" fill="#f3d443" stroke="#2f4c96" stroke-width="0.4"/>
<rect x="1083.6" y="259" width="3.2" height="2.3" fill="#f3d443"/>
<line x1="1029.0" y1="252.0" x2="1029.0" y2="257.0" stroke="#2f4c96" stroke-width="0.6"/>
<line x1="1036.0" y1="239.0" x2="1036.0" y2="243.0" stroke="#2f4c96" stroke-width="0.6"/>
<line x1="1060.6" y1="240.0" x2="1060.6" y2="251.0" stroke="#2f4c96" stroke-width="0.6"/>
<line x1="1058.6" y1="241.0" x2="1058.6" y2="251.0" stroke="#2f4c96" stroke-width="0.6"/>
<line x1="1072.6" y1="247.0" x2="1072.6" y2="256.0" stroke="#2f4c96" stroke-width="0.6"/>
<line x1="1081.9" y1="255.8" x2="1088.7" y2="255.8" stroke="#2f4c96" stroke-width="0.6"/>
<line x1="1070.7" y1="250.0" x2="1068.3" y2="250.0" stroke="#2f4c96" stroke-width="0.6"/>
<polygon points="1052.2,259.2 1055.4,259.2 1057.2,264.7 1050.4,264.7" fill="#cfd0ec" stroke="#2f4c96" stroke-width="0.4"/>
<path d="M1042.3,261.3 L1041.0,247.2 L1055.1,248.1" fill="none" stroke="#2f4c96" stroke-width="0.6"/>
<path d="M1055.1,248.1 A14.1,14.1 0 0 1 1042.3,261.3" fill="none" stroke="#2f4c96" stroke-width="2.5"/>
<path d="M1055.1,248.1 A14.1,14.1 0 0 1 1042.3,261.3" fill="none" stroke="#e6e7f6" stroke-width="1.5"/>
<polygon points="1078.2,259.2 1081.4,259.2 1083.2,264.7 1076.4,264.7" fill="#cfd0ec" stroke="#2f4c96" stroke-width="0.4"/>
<path d="M1069.1,261.3 L1068.3,246.4 L1081.9,248.5" fill="none" stroke="#2f4c96" stroke-width="0.6"/>
<path d="M1081.9,248.5 A13.8,13.8 0 0 1 1069.1,261.3" fill="none" stroke="#2f4c96" stroke-width="2.5"/>
<path d="M1081.9,248.5 A13.8,13.8 0 0 1 1069.1,261.3" fill="none" stroke="#e6e7f6" stroke-width="1.5"/>
<polygon points="1097.8,259.2 1101.0,259.2 1102.8,264.7 1096.0,264.7" fill="#cfd0ec" stroke="#2f4c96" stroke-width="0.4"/>
<path d="M1089.2,263.0 L1088.3,248.5 L1101.9,249.4" fill="none" stroke="#2f4c96" stroke-width="0.6"/>
<path d="M1101.9,249.4 A13.6,13.6 0 0 1 1089.2,263.0" fill="none" stroke="#2f4c96" stroke-width="2.5"/>
<path d="M1101.9,249.4 A13.6,13.6 0 0 1 1089.2,263.0" fill="none" stroke="#e6e7f6" stroke-width="1.5"/>
<rect x="1030" y="281.9" width="70" height="3.3" fill="#223f7d"/>
</g>
<text class="sb" x="1064.5" y="277.5" font-size="10.3" text-anchor="middle" fill="#2a4a8c" textLength="37.5" lengthAdjust="spacingAndGlyphs">ALPINE</text>
</g>
<g id="cristal-logo">
<polygon points="1132.12,206.77 1152.23,230.12 1152.23,270.17 1132.12,296.58 1112.52,270.17 1112.52,230.12" fill="url(#gCr)"/>
<g clip-path="url(#cCr)">
<polygon points="1132.12,206.77 1144.90,230.12 1132.12,253.12 1119.68,230.12" fill="#fff" opacity="0.13"/>
<polygon points="1112.52,230.12 1115.25,226.88 1115.25,273.57 1112.52,270.17" fill="#0b3a4a" opacity="0.25"/>
<polygon points="1152.23,230.12 1144.90,230.12 1132.12,253.12 1152.23,258.24" fill="#fff" opacity="0.10"/>
<polygon points="1113.37,270.17 1113.37,263.69 1115.93,263.01 1115.93,260.79 1119.00,260.28 1119.68,258.24 1122.75,257.90 1123.77,259.94 1126.15,259.60 1126.84,261.99 1129.56,261.99 1130.93,259.60 1133.31,258.24 1134.33,254.49 1132.97,253.12 1131.27,251.76 1131.27,249.72 1133.82,248.01 1137.23,246.65 1142.34,246.65 1146.60,248.01 1148.65,250.06 1147.97,252.10 1144.90,253.47 1143.54,255.17 1144.22,258.58 1145.92,260.28 1146.60,262.67 1148.65,261.99 1151.03,262.67 1151.72,265.39 1152.06,270.17 1132.12,267.44" fill="#fff"/>
<ellipse cx="1139.79" cy="247.67" rx="5.2" ry="1.6" fill="none" stroke="#5aa890" stroke-width="0.5"/>
<path d="M1112.52,270.34 Q1132.29,263.69 1152.23,270.34 L1132.12,296.75 Z" fill="url(#gCr2)"/>
<circle cx="1125.30" cy="223.81" r="0.50" fill="#fff" opacity="0.9"/>
<circle cx="1135.53" cy="225.86" r="0.45" fill="#fff" opacity="0.9"/>
<circle cx="1141.15" cy="222.45" r="0.45" fill="#fff" opacity="0.9"/>
<circle cx="1140.30" cy="229.27" r="0.50" fill="#fff" opacity="0.9"/>
<circle cx="1147.46" cy="231.31" r="0.50" fill="#fff" opacity="0.9"/>
<circle cx="1115.59" cy="233.53" r="0.45" fill="#fff" opacity="0.9"/>
<circle cx="1127.86" cy="219.04" r="0.35" fill="#fff" opacity="0.9"/>
<circle cx="1144.05" cy="236.08" r="0.40" fill="#fff" opacity="0.9"/>
<ellipse cx="1134.33" cy="219.72" rx="2.70" ry="1.70" transform="rotate(-35 1134.33 219.72)" fill="#fff" fill-opacity="0.25" stroke="#fff" stroke-opacity="0.75" stroke-width="0.6"/>
<ellipse cx="1134.33" cy="219.72" rx="1.08" ry="0.68" transform="rotate(-35 1134.33 219.72)" fill="#fff" opacity="0.85"/>
<ellipse cx="1121.04" cy="229.27" rx="2.40" ry="2.00" transform="rotate(20 1121.04 229.27)" fill="#fff" fill-opacity="0.25" stroke="#fff" stroke-opacity="0.75" stroke-width="0.6"/>
<ellipse cx="1121.04" cy="229.27" rx="0.96" ry="0.80" transform="rotate(20 1121.04 229.27)" fill="#fff" opacity="0.85"/>
<ellipse cx="1136.38" cy="235.23" rx="2.60" ry="2.10" transform="rotate(-20 1136.38 235.23)" fill="#fff" fill-opacity="0.25" stroke="#fff" stroke-opacity="0.75" stroke-width="0.6"/>
<ellipse cx="1136.38" cy="235.23" rx="1.04" ry="0.84" transform="rotate(-20 1136.38 235.23)" fill="#fff" opacity="0.85"/>
<path d="M1131.27,227.82 l0.5,1.8 l1.8,0.5 l-1.8,0.5 l-0.5,1.8 l-0.5,-1.8 l-1.8,-0.5 l1.8,-0.5 Z" fill="#fff"/>
</g>
<text class="sb" transform="translate(1161.9,272.0) rotate(-90)" font-size="10.8" fill="#1f6a4c" textLength="41.8" lengthAdjust="spacingAndGlyphs">CRISTAL</text>
</g>
</svg></body></html>
